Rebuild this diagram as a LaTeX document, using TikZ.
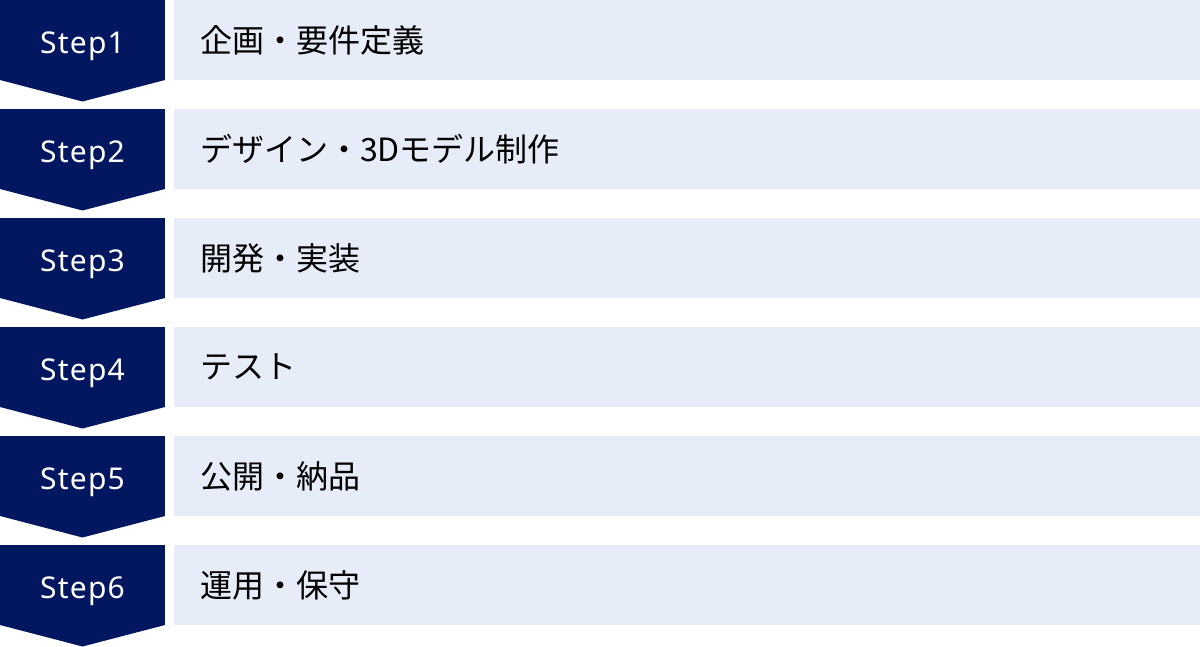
\documentclass[tikz,border=0pt]{standalone}
\usepackage{fontspec}
\setmainfont{Noto Sans CJK JP}
\newfontfamily\stepfont[LetterSpace=4]{Noto Sans}
\usetikzlibrary{positioning}
\definecolor{stepnavy}{RGB}{3,23,96}
\definecolor{rowblue}{RGB}{230,236,248}

\begin{document}
\begin{tikzpicture}[node distance={14.5pt},
	stepbox/.style = {fill=stepnavy, text=white, minimum width=82.5pt, minimum height=40pt, inner sep=0pt, outer sep=0pt, text height=13.2pt, text depth=0pt, font=\stepfont\fontsize{15pt}{16pt}\selectfont},
	row/.style = {fill=rowblue, minimum height=40pt, inner xsep=13pt, inner ysep=0pt, outer sep=0pt, text width=487pt, align=left, font=\fontsize{16pt}{18pt}\selectfont},
	tip/.style = {fill=stepnavy}]
	\useasboundingbox (0,0) rectangle (600pt,-323.5pt);
	\node[stepbox, anchor=north west] (s1) at (0,0) {Step1};
	\node[stepbox] (s2) [below=of s1] {Step2};
	\node[stepbox] (s3) [below=of s2] {Step3};
	\node[stepbox] (s4) [below=of s3] {Step4};
	\node[stepbox] (s5) [below=of s4] {Step5};
	\node[stepbox] (s6) [below=of s5] {Step6};
	\node[row] (r1) [right=4.5pt of s1] {企画・要件定義};
	\node[row] (r2) [right=4.5pt of s2] {デザイン・3Dモデル制作};
	\node[row] (r3) [right=4.5pt of s3] {開発・実装};
	\node[row] (r4) [right=4.5pt of s4] {テスト};
	\node[row] (r5) [right=4.5pt of s5] {公開・納品};
	\node[row] (r6) [right=4.5pt of s6] {運用・保守};
	\fill[tip] (s1.south west) -- ([yshift=-10.75pt]s1.south) -- (s1.south east) -- cycle;
	\fill[tip] (s2.south west) -- ([yshift=-10.75pt]s2.south) -- (s2.south east) -- cycle;
	\fill[tip] (s3.south west) -- ([yshift=-10.75pt]s3.south) -- (s3.south east) -- cycle;
	\fill[tip] (s4.south west) -- ([yshift=-10.75pt]s4.south) -- (s4.south east) -- cycle;
	\fill[tip] (s5.south west) -- ([yshift=-10.75pt]s5.south) -- (s5.south east) -- cycle;
	\fill[tip] (s6.south west) -- ([yshift=-10.75pt]s6.south) -- (s6.south east) -- cycle;
\end{tikzpicture}
\end{document}
